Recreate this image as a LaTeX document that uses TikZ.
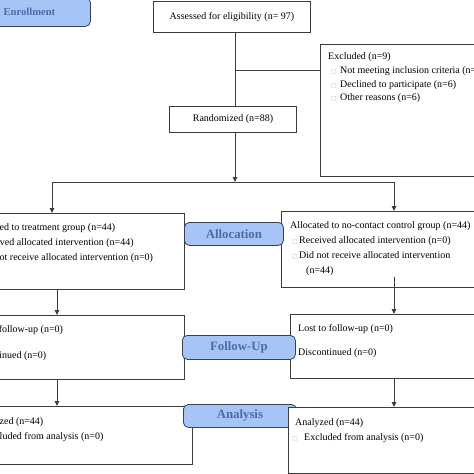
\documentclass[tikz,border=0pt]{standalone}
\usepackage{fontspec}
\setmainfont{Liberation Serif}
\newfontfamily\symfont{DejaVu Sans}
\usetikzlibrary{arrows.meta}
\definecolor{lblfill}{RGB}{166,196,245}
\definecolor{lbltext}{RGB}{75,108,168}
\definecolor{lblline}{RGB}{55,65,85}
\definecolor{linegray}{RGB}{60,60,60}
\newcommand{\bx}[1]{\makebox[#1][l]{\textcolor{gray!55}{\symfont\fontsize{6}{6}\selectfont □}}}
\begin{document}
\begin{tikzpicture}[x=1pt,y=-1pt,
    box/.style={rectangle,draw=linegray,line width=1pt,fill=white,anchor=north west,inner sep=0pt,font=\fontsize{10}{15}\selectfont},
    lbl/.style={rectangle,rounded corners=5pt,draw=lblline,line width=0.8pt,fill=lblfill,text=lbltext,anchor=north west,inner sep=0pt,font=\bfseries\fontsize{12.8}{14}\selectfont},
    txt/.style={anchor=north west,inner sep=0pt,align=left,font=\fontsize{10}{15}\selectfont},
    arr/.style={-{Triangle[length=5pt,width=4.5pt]},draw=linegray,line width=1pt},
    flowline/.style={draw=linegray,line width=1pt}]
    \useasboundingbox (0,0) rectangle (474,474);
    \clip (0,0) rectangle (474,474);

        % enrollment
        \draw (-32,-3) node (enroll) [lbl,minimum width=122pt,minimum height=29pt,font=\bfseries\fontsize{10.6}{12}\selectfont] {Enrollment};
        \draw (153,0.5) node (assess) [box,minimum width=157pt,minimum height=31.5pt] {Assessed for eligibility (n= 97)};
        \draw (320,44) node (excl) [box,minimum width=170pt,minimum height=132pt] {};
        \draw (328,52.8) node (exclT) [txt,font=\fontsize{10}{13.6}\selectfont] {Excluded (n=9)\\\hspace*{3pt}\bx{9pt}Not meeting inclusion criteria (n=\\\hspace*{3pt}\bx{9pt}Declined to participate (n=6)\\\hspace*{3pt}\bx{9pt}Other reasons (n=6)};
        \draw (169,106) node (rand) [box,minimum width=127pt,minimum height=26pt] {Randomized (n=88)};

        % allocation
        \draw (-35,213) node (lalloc) [box,minimum width=219pt,minimum height=76pt] {};
        \draw (-30,223.8) node (lallocT) [txt] {Allocated to treatment group (n=44)\\\bx{7pt}Received allocated intervention (n=44)\\\bx{7pt}Did not receive allocated intervention (n=0)};
        \draw (281,211) node (ralloc) [box,minimum width=209pt,minimum height=76pt] {};
        \draw (290,221.8) node (rallocT) [txt] {Allocated to no-contact control group (n=44)\\\hspace*{2pt}\bx{7pt}Received allocated intervention (n=0)\\\hspace*{2pt}\bx{7pt}Did not receive allocated intervention\\\hspace*{16pt}(n=44)};
        \draw (184,222) node (alloclbl) [lbl,minimum width=99pt,minimum height=23pt] {Allocation};

        % follow-up
        \draw (-35,315) node (lfoll) [box,minimum width=219pt,minimum height=64pt] {};
        \draw (-32,324.8) node (lfollT) [txt] {Lost to follow-up (n=0)\\[11pt]Discontinued (n=0)};
        \draw (290,314) node (rfoll) [box,minimum width=200pt,minimum height=64pt] {};
        \draw (298,323.8) node (rfollT) [txt] {Lost to follow-up (n=0)\\[9pt]Discontinued (n=0)};
        \draw (182,335) node (follbl) [lbl,minimum width=113pt,minimum height=24pt] {Follow-Up};

        % analysis
        \draw (-35,406) node (lanal) [box,minimum width=227pt,minimum height=58pt] {};
        \draw (-28,417.8) node (lanalT) [txt] {\hspace*{3pt}Analyzed (n=44)\\\bx{12pt}Excluded from analysis (n=0)};
        \draw (183,404) node (anallbl) [lbl,minimum width=113pt,minimum height=23pt] {Analysis};
        \draw (288,407) node (ranal) [box,minimum width=202pt,minimum height=66pt] {};
        \draw (292,418.8) node (ranalT) [txt] {\hspace*{3pt}Analyzed (n=44)\\\bx{12pt}Excluded from analysis (n=0)};

        % connectors
        \coordinate (split) at (235,182);
        \coordinate (exjoin) at (235,70);
        \coordinate (lsplit) at (52,182);
        \coordinate (rsplit) at (394,182);
        \coordinate (lcol) at (57,300);
        \coordinate (rstub) at (394,277);

        \draw [flowline] (assess.south -| split) -- (rand.north -| split);
        \draw [flowline] (exjoin) -- (exjoin -| excl.west);
        \draw [arr] (rand.south -| split) -- (split);
        \draw [flowline] (lsplit) -- (rsplit);
        \draw [arr] (lsplit) -- (lsplit |- lalloc.north);
        \draw [arr] (rsplit) -- (rsplit |- ralloc.north);
        \draw [arr] (lalloc.south -| lcol) -- (lfoll.north -| lcol);
        \draw [arr] (rstub) -- (rstub |- rfoll.north);
        \draw [arr] (lfoll.south -| lcol) -- (lanal.north -| lcol);
        \draw [arr] (rfoll.south -| rstub) -- (ranal.north -| rstub);
    \end{tikzpicture}
\end{document}
